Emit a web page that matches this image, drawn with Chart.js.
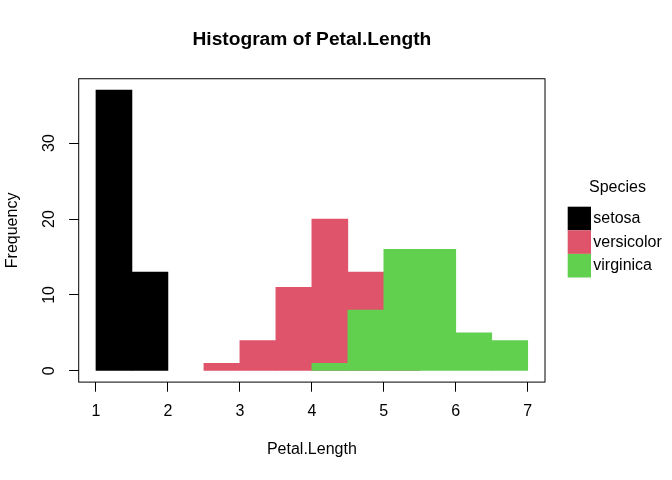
<!DOCTYPE html>
<html>
<head>
<meta charset="utf-8">
<script src="https://cdn.jsdelivr.net/npm/chart.js@4.4.1/dist/chart.umd.min.js"></script>
<style>
  body { margin: 0; background: #ffffff; }
</style>
</head>
<body>
<canvas id="myChart" width="672" height="480"></canvas>
<script>
// bin midpoints (bins of width 0.5 from 1 to 7)
const binMids = [1.25, 1.75, 2.25, 2.75, 3.25, 3.75, 4.25, 4.75, 5.25, 5.75, 6.25, 6.75];

const speciesNames = ['setosa', 'versicolor', 'virginica'];
const speciesColors = ['#000000', '#DF536B', '#61D04F'];

const setosaCounts     = [37, 13, null, null, null, null, null, null, null, null, null, null];
const versicolorCounts = [null, null, null, 1, 4, 11, 20, 13, 1, null, null, null];
const virginicaCounts  = [null, null, null, null, null, null, 1, 8, 16, 16, 5, 4];

const xTicks = [1, 2, 3, 4, 5, 6, 7];
const yTicks = [0, 10, 20, 30];

Chart.defaults.font.family = '"Liberation Sans", Arial, Helvetica, sans-serif';
Chart.defaults.font.size = 16;
Chart.defaults.color = '#000000';

function toPoints(counts) {
  return binMids.map((x, i) => ({ x: x, y: counts[i] }));
}

const allCounts = [setosaCounts, versicolorCounts, virginicaCounts];

const datasets = speciesNames.map((name, i) => ({
  label: name,
  data: toPoints(allCounts[i]),
  backgroundColor: speciesColors[i],
  borderWidth: 0,
  barPercentage: 1.0,
  categoryPercentage: 1.0,
  grouped: false,
  order: 3 - i   // virginica drawn on top, like the overlaid hist() calls
}));

// box round the plot region, as box() in R
const boxPlugin = {
  id: 'plotBox',
  afterDatasetsDraw(chart) {
    const { ctx, chartArea } = chart;
    ctx.save();
    ctx.strokeStyle = '#000000';
    ctx.lineWidth = 1;
    ctx.strokeRect(chartArea.left, chartArea.top,
                   chartArea.right - chartArea.left, chartArea.bottom - chartArea.top);
    ctx.restore();
  }
};

// legend in the right margin with a title
const legendPlugin = {
  id: 'speciesLegend',
  afterDraw(chart) {
    const { ctx } = chart;
    const boxX = 567.7, boxW = 23.3, boxH = 23.6, top = 206.7;
    ctx.save();
    ctx.font = '16px "Liberation Sans", Arial, sans-serif';
    ctx.fillStyle = '#000000';
    ctx.textAlign = 'center';
    ctx.textBaseline = 'middle';
    ctx.fillText('Species', 617.5, 187.5);
    ctx.textAlign = 'left';
    chart.data.datasets.forEach((ds, i) => {
      const y = top + i * boxH;
      ctx.fillStyle = ds.backgroundColor;
      ctx.fillRect(boxX, y, boxW, boxH);
      ctx.fillStyle = '#000000';
      ctx.fillText(ds.label, 593.3, y + boxH / 2);
    });
    ctx.restore();
  }
};

const config = {
  type: 'bar',
  data: { datasets },
  options: {
    responsive: false,
    animation: false,
    layout: { padding: { left: 0, right: 127, top: 0, bottom: 0 } },
    scales: {
      x: {
        type: 'linear',
        offset: false,
        min: 0.76,
        max: 7.24,
        afterBuildTicks: (scale) => { scale.ticks = xTicks.map(v => ({ value: v })); },
        afterFit: (scale) => { scale.height = 97.9; },
        grid: { offset: false, drawOnChartArea: false, drawTicks: true, tickLength: 9.6, color: '#000000', lineWidth: 1 },
        border: { display: false },
        ticks: { padding: 10.2, maxRotation: 0, autoSkip: false, color: '#000000' },
        title: { display: true, text: 'Petal.Length', color: '#000000', padding: { top: 0, bottom: 21 } }
      },
      y: {
        type: 'linear',
        min: -1.48,
        max: 38.48,
        afterBuildTicks: (scale) => { scale.ticks = yTicks.map(v => ({ value: v })); },
        afterFit: (scale) => { scale.width = 78.7; },
        grid: { drawOnChartArea: false, drawTicks: true, tickLength: 9.6, color: '#000000', lineWidth: 1 },
        border: { display: false },
        ticks: { padding: 10.2, minRotation: 90, maxRotation: 90, crossAlign: 'center', autoSkip: false, color: '#000000' },
        title: { display: true, text: 'Frequency', color: '#000000', padding: { top: 3, bottom: 0 } }
      }
    },
    plugins: {
      legend: { display: false },
      tooltip: { enabled: false },
      title: {
        display: true,
        fullSize: false,
        text: 'Histogram of Petal.Length',
        color: '#000000',
        font: { size: 19.2, weight: 'bold' },
        padding: { top: 28.5, bottom: 27.2 }
      }
    }
  },
  plugins: [boxPlugin, legendPlugin]
};

const myChart = new Chart(document.getElementById('myChart'), config);
</script>
</body>
</html>
